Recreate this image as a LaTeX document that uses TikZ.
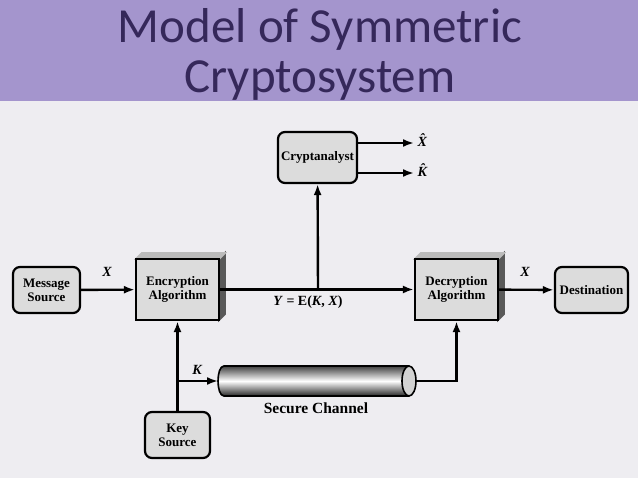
\documentclass[tikz,border=0pt]{standalone}
\usepackage{fontspec}
\setmainfont{Liberation Serif}
\newfontfamily\titlefont{Carlito}
\usetikzlibrary{arrows.meta}
\definecolor{bg}{HTML}{EEEDF1}
\definecolor{band}{HTML}{A495CD}
\definecolor{ttl}{HTML}{35285A}
\definecolor{boxf}{HTML}{DCDCDC}
\begin{document}
\begin{tikzpicture}[x=1pt,y=-1pt,
 rbox/.style={draw,line width=2.2pt,rounded corners=7pt,fill=boxf,align=center,font=\bfseries\fontsize{13}{14}\selectfont,inner sep=0pt},
 arr/.style={line width=2.4pt,-{Latex[length=11pt,width=8pt]}},
 lbl/.style={font=\bfseries\itshape\fontsize{14}{15}\selectfont}]
\fill[bg] (0,0) rectangle (638,478);
\useasboundingbox (0,0) rectangle (638,478);
\fill[band] (0,0) rectangle (638,101);
\node[font=\titlefont\fontsize{49}{50}\selectfont,text=ttl,align=center] (title) at (320,54) {Model of Symmetric\\Cryptosystem};
% 3D boxes
\foreach \n/\xa/\xb/\t in {enc/136/219/{Encryption\\Algorithm},dec/415/498/{Decryption\\Algorithm}}{
 \fill[gray!70!black,draw,line width=1.8pt] (\xb,259)--(\xb+6,253)--(\xb+6,314)--(\xb,320)--cycle;
 \fill[boxf!85!black,draw,line width=1.8pt] (\xa,259)--(\xa+6,253)--(\xb+6,253)--(\xb,259)--cycle;
 \node[draw,line width=2.2pt,fill=boxf,minimum width=83pt,minimum height=61pt,align=center,font=\bfseries\fontsize{13}{14}\selectfont] (\n) at ({(\xa+\xb)/2},289.5) {\t};
}
\node[rbox,minimum width=67pt,minimum height=46pt] (msg) at (46.5,290) {Message\\Source};
\node[rbox,minimum width=73pt,minimum height=46pt] (dst) at (591.5,290) {Destination};
\node[rbox,minimum width=79pt,minimum height=51pt] (cry) at (317.5,157.5) {Cryptanalyst};
\node[rbox,minimum width=65pt,minimum height=46pt] (key) at (177.5,435) {Key\\Source};
% cylinder
\shade[top color=black!75,bottom color=black!85,middle color=white,shading angle=0]
  (224,366) .. controls (216,366) and (216,396) .. (224,396) -- (409,396) -- (409,366) -- cycle;
\draw[line width=1.6pt] (409,366) -- (224,366) .. controls (216,366) and (216,396) .. (224,396) -- (409,396);
\fill[gray!35] (409,381) ellipse (7pt and 15pt);
\draw[line width=1.6pt] (409,381) ellipse (7pt and 15pt);
\coordinate (cl) at (218,381);
\coordinate (cr) at (416,381);
\coordinate (br) at (177,381);
\coordinate (jn) at (318,290);
% connectors
\draw[arr] (msg) -- (enc);
\draw[arr] (enc) -- (dec);
\draw[arr] (dec) -- (dst);
\draw[arr] (jn) -- (cry);
\draw[arr] (key) -- (enc);
\draw[arr] (br) -- (cl);
\draw[arr] (cr) -| (dec);
\coordinate (xh) at (414,143);
\coordinate (kh) at (414,173);
\draw[arr] (cry.east|-xh) -- (xh);
\draw[arr] (cry.east|-kh) -- (kh);
\node[lbl] (lx1) at (107,272) {X};
\node[lbl] (lx2) at (525,272) {X};
\node[lbl] (lk) at (197,370) {K};
\node[lbl,anchor=west] (xhat) at (414,140) {\^{X}};
\node[lbl,anchor=west] (khat) at (414,170) {\^{K}};
\node[font=\bfseries\fontsize{14}{15}\selectfont] (y) at (308,302) {\textit{Y} = E(\textit{K}, \textit{X})};
\node[font=\bfseries\fontsize{15.5}{16}\selectfont] (sc) at (316,408) {Secure Channel};
\end{tikzpicture}
\end{document}
